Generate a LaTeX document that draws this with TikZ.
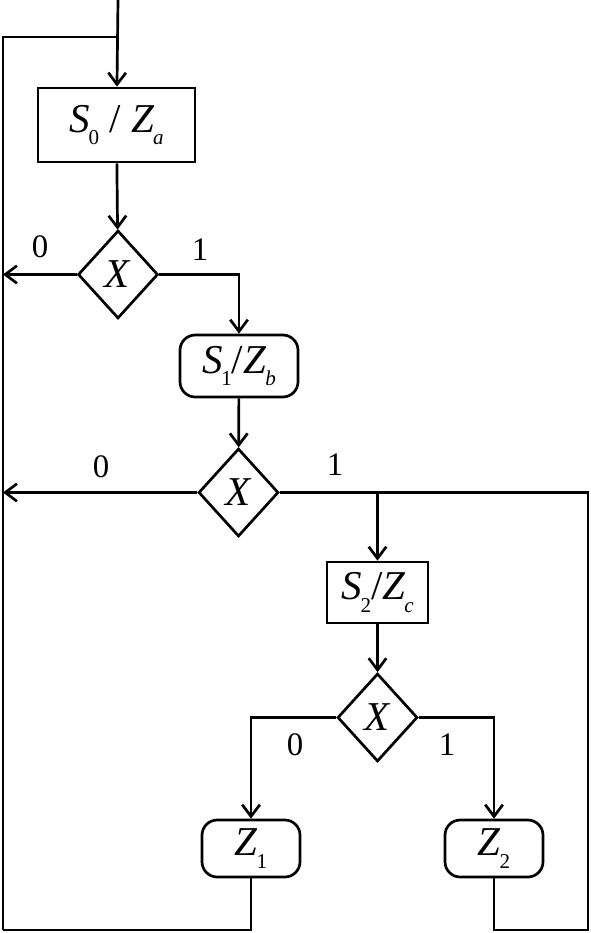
\documentclass[tikz,border=0pt]{standalone}
\usepackage{fontspec}
\setmainfont{Liberation Serif}
\usetikzlibrary{arrows.meta,shapes.geometric,positioning,calc}

% italic letter with a lowered index
\newcommand{\ix}[2]{\textit{#1}\kern-1pt\raisebox{-0.3em}{\fontsize{18}{20}\selectfont #2}}

\begin{document}
\begin{tikzpicture}[x=0.03cm, y=-0.03cm,
    font=\fontsize{35}{40}\selectfont,
    line width=2.3pt,
    box/.style={draw, rectangle, inner sep=0pt},
    rbox/.style={draw, rectangle, rounded corners=13pt, inner sep=0pt},
    dec/.style={draw, diamond, inner sep=0pt, minimum width=2.4cm, minimum height=2.64cm},
    lbl/.style={font=\fontsize{28}{32}\selectfont},
    arr/.style={-{Straight Barb[length=10pt,width=15pt]}}
]
\useasboundingbox (0,0) rectangle (590,933);

\node[box, minimum width=4.71cm, minimum height=2.22cm] (s0) at (116.5,125) {\ix{S}{0} / \ix{Z}{\textit{a}}};
\node[dec] (d1) at (118,274.5) {\textit{X}};
\node[rbox, minimum width=3.54cm, minimum height=1.86cm] (s1) at (239,366) {\ix{S}{1}/\ix{Z}{\textit{b}}};
\node[dec] (d2) at (238.5,492.5) {\textit{X}};
\node[box, minimum width=3.03cm, minimum height=1.83cm] (s2) at (377.5,592.5) {\ix{S}{2}/\ix{Z}{\textit{c}}};
\node[dec] (d3) at (377.5,717.5) {\textit{X}};
\node[rbox, minimum width=2.94cm, minimum height=1.71cm] (z1) at (251,848.5) {\ix{Z}{1}};
\node[rbox, minimum width=2.94cm, minimum height=1.71cm] (z2) at (494,848.5) {\ix{Z}{2}};

\node[lbl] (l10) at (40,247) {0};
\node[lbl] (l11) at (200,250) {1};
\node[lbl] (l20) at (101,467) {0};
\node[lbl] (l21) at (335,465) {1};
\node[lbl] (l30) at (295,745) {0};
\node[lbl] (l31) at (447,745) {1};

\coordinate (top) at (118,0);
\coordinate (jtop) at (118,37);
\coordinate (lt) at (3,37);
\coordinate (lb) at (3,930);
\coordinate (rt) at (588,492.5);
\coordinate (rb) at (588,930);
\coordinate (j2) at (s2.north |- d2.east);

\draw[arr] (top) -- (s0);
\draw (lb) -- (lt) -- (jtop);
\draw[arr] (s0) -- (d1);
\draw[arr] (d1.west) -- (d1.west -| lt);
\draw[arr] (d1.east) -| (s1);
\draw[arr] (s1) -- (d2);
\draw[arr] (d2.west) -- (d2.west -| lt);
\draw (d2.east) -- (rt) -- (rb) -| (z2.south);
\draw[arr] (j2) -- (s2);
\draw[arr] (s2) -- (d3);
\draw[arr] (d3.west) -| (z1);
\draw[arr] (d3.east) -| (z2);
\draw (z1.south) |- (lb);
\end{tikzpicture}
\end{document}
